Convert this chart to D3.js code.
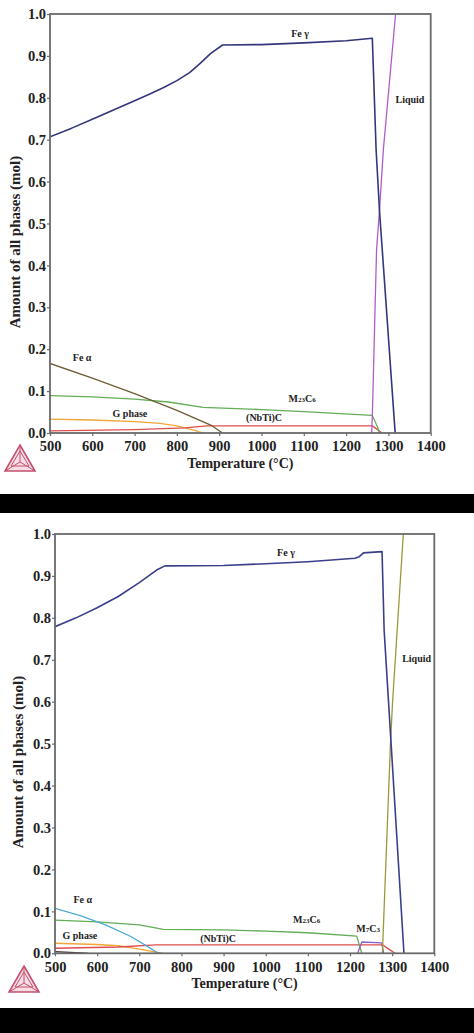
<!DOCTYPE html>
<html>
<head>
    <title>Amount of all phases vs temperature</title>
    <script src="https://d3js.org/d3.v7.min.js"></script>
    <style>
        body { margin: 0; background: #fff; }
        svg { display: block; }
        .tick text { font-family: "Liberation Serif", "Times New Roman", serif; font-weight: bold; font-size: 14.5px; fill: #222; }
        .axis-title { font-family: "Liberation Serif", "Times New Roman", serif; font-weight: bold; font-size: 14px; fill: #222; }
        .y-title { font-size: 15px; }
        .phase-label { font-family: "Liberation Serif", "Times New Roman", serif; font-weight: bold; font-size: 10px; fill: #222; }
    </style>
</head>
<body>
    <div id="chart"></div>

    <script>
        const width = 474, height = 1033;

        // tick labels
        const xTicks = [500, 600, 700, 800, 900, 1000, 1100, 1200, 1300, 1400];
        const yTicks = [0, 0.1, 0.2, 0.3, 0.4, 0.5, 0.6, 0.7, 0.8, 0.9, 1.0];

        // panel (a) : [temperature, amount]
        const feGammaA = [[500, 0.707], [550, 0.727], [600, 0.749], [650, 0.771], [700, 0.793], [736, 0.809], [770, 0.825], [800, 0.841], [830, 0.860], [855, 0.882], [880, 0.906], [908, 0.926], [1000, 0.927], [1100, 0.931], [1200, 0.936], [1262, 0.942], [1271, 0.675], [1279, 0.53], [1316, 0]];
        const liquidA = [[1260.5, 0], [1262, 0.04], [1272, 0.437], [1279, 0.532], [1288, 0.675], [1317, 1.0]];
        const feAlphaA = [[500, 0.166], [600, 0.131], [700, 0.094], [800, 0.054], [880, 0.019], [908, 0]];
        const m23c6A = [[500, 0.089], [600, 0.086], [700, 0.081], [780, 0.074], [862, 0.061], [1000, 0.056], [1100, 0.051], [1262, 0.042], [1274, 0.015], [1279, 0]];
        const nbtiCA = [[500, 0.005], [700, 0.008], [820, 0.012], [870, 0.017], [1262, 0.017], [1285, 0]];
        const gPhaseA = [[500, 0.033], [600, 0.031], [700, 0.027], [760, 0.023], [800, 0.017], [840, 0.007], [862, 0]];

        // panel (b)
        const feGammaB = [[500, 0.779], [550, 0.800], [600, 0.824], [650, 0.851], [700, 0.884], [741, 0.914], [761, 0.924], [900, 0.925], [1000, 0.929], [1100, 0.934], [1212, 0.942], [1222, 0.946], [1232, 0.955], [1276, 0.958], [1281, 0.77], [1292, 0.59], [1328, 0]];
        const liquidB = [[1277, 0], [1278, 0.03], [1296, 0.50], [1301, 0.60], [1326.5, 1.0]];
        const feAlphaB = [[500, 0.107], [560, 0.090], [620, 0.068], [680, 0.040], [720, 0.016], [745, 0]];
        const m23c6B = [[500, 0.079], [600, 0.075], [700, 0.068], [757, 0.057], [900, 0.056], [1000, 0.053], [1100, 0.049], [1216, 0.041], [1228, 0]];
        const m7c3B = [[1218, 0], [1228, 0.027], [1275, 0.025], [1280, 0]];
        const nbtiCB = [[500, 0.012], [650, 0.015], [740, 0.020], [1278, 0.020], [1292, 0.010], [1307, 0]];
        const gPhaseB = [[500, 0.024], [600, 0.021], [650, 0.018], [700, 0.010], [757, 0]];
        const darkB = [[500, 0.004], [560, 0.001], [580, 0]];

        // labels : [text parts (odd parts are subscripts), temperature, amount]
        const labelsA = [
            [["Fe γ"], 1091, 0.955],
            [["Liquid"], 1351, 0.797],
            [["Fe α"], 576, 0.181],
            [["M", "23", "C", "6"], 1096, 0.084],
            [["G phase"], 689, 0.048],
            [["(NbTi)C"], 1006, 0.039]
        ];
        const labelsB = [
            [["Fe γ"], 1048, 0.958],
            [["Liquid"], 1358, 0.704],
            [["Fe α"], 566, 0.129],
            [["G phase"], 559, 0.044],
            [["M", "23", "C", "6"], 1097, 0.081],
            [["(NbTi)C"], 887, 0.037],
            [["M", "7", "C", "3"], 1243, 0.060]
        ];

        var svg = d3.select("#chart").append("svg")
            .attr("width", width)
            .attr("height", height);

        svg.append("rect").attr("width", width).attr("height", height).attr("fill", "#fff");

        function drawLogo(x, y) {
            var g = svg.append("g").attr("transform", "translate(" + x + "," + y + ")");
            g.append("path")
                .attr("d", "M15,0 L30,26 L0,26 Z")
                .attr("fill", "#f6dde5")
                .attr("stroke", "#c4526f")
                .attr("stroke-width", 1.6);
            g.append("path")
                .attr("d", "M15,0 L15,17 M0,26 L15,17 L30,26 M15,6 L24,21 L6,21 Z")
                .attr("fill", "none")
                .attr("stroke", "#c4526f")
                .attr("stroke-width", 1);
        }

        function drawPanel(p) {
            var x = d3.scaleLinear().domain([500, 1400]).range([p.left, p.right]);
            var y = d3.scaleLinear().domain([0, 1]).range([p.bottom, p.top]);

            var clipId = "clip-" + p.name;
            svg.append("clipPath").attr("id", clipId)
                .append("rect")
                .attr("x", p.left).attr("y", p.top)
                .attr("width", p.right - p.left).attr("height", p.bottom - p.top);

            var line = d3.line().x(d => x(d[0])).y(d => y(d[1]));

            var lines = svg.append("g").attr("clip-path", "url(#" + clipId + ")");
            p.series.forEach(s => {
                lines.append("path")
                    .datum(s.data)
                    .attr("fill", "none")
                    .attr("stroke", s.color)
                    .attr("stroke-width", s.width || 1.3)
                    .attr("stroke-linejoin", "round")
                    .attr("d", line);
            });

            // frame
            svg.append("rect")
                .attr("x", p.left).attr("y", p.top)
                .attr("width", p.right - p.left).attr("height", p.bottom - p.top)
                .attr("fill", "none")
                .attr("stroke", "#6a6a6a")
                .attr("stroke-width", 1.8);

            var xAxis = svg.append("g")
                .attr("transform", "translate(0," + p.bottom + ")")
                .call(d3.axisBottom(x).tickValues(xTicks).tickSize(3).tickPadding(5).tickFormat(d3.format("d")));
            var yAxis = svg.append("g")
                .attr("transform", "translate(" + p.left + ",0)")
                .call(d3.axisLeft(y).tickValues(yTicks).tickSize(3).tickPadding(1).tickFormat(d3.format(".1f")));
            [xAxis, yAxis].forEach(a => {
                a.select(".domain").remove();
                a.selectAll(".tick line").attr("stroke", "#6a6a6a").attr("stroke-width", 1.2);
            });

            svg.append("text")
                .attr("class", "axis-title")
                .attr("x", (p.left + p.right) / 2)
                .attr("y", p.bottom + 35)
                .attr("text-anchor", "middle")
                .text("Temperature (°C)");

            svg.append("text")
                .attr("class", "axis-title y-title")
                .attr("transform", "translate(" + p.yTitleX + "," + p.yTitleY + ") rotate(-90)")
                .attr("text-anchor", "middle")
                .text("Amount of all phases (mol)");

            p.labels.forEach(l => {
                var t = svg.append("text")
                    .attr("class", "phase-label")
                    .attr("x", x(l[1]))
                    .attr("y", y(l[2]))
                    .attr("text-anchor", "middle")
                    .attr("dominant-baseline", "central");
                l[0].forEach((part, i) => {
                    var ts = t.append("tspan").text(part);
                    if (i % 2 === 1) ts.attr("font-size", "7px").attr("dy", "2");
                    else if (i > 0) ts.attr("dy", "-2");
                });
            });

            drawLogo(p.logoX, p.logoY);
        }

        drawPanel({
            name: "a", left: 50, right: 430.7, top: 14, bottom: 433,
            yTitleX: 20, yTitleY: 242, logoX: 5, logoY: 445,
            labels: labelsA,
            series: [
                { data: gPhaseA, color: "#f0a638" },
                { data: nbtiCA, color: "#de4c4c" },
                { data: m23c6A, color: "#62ad55" },
                { data: feAlphaA, color: "#6e5d35" },
                { data: liquidA, color: "#b25bc4" },
                { data: feGammaA, color: "#33367a", width: 1.6 }
            ]
        });

        drawPanel({
            name: "b", left: 55, right: 434.3, top: 534, bottom: 953.3,
            yTitleX: 23, yTitleY: 762, logoX: 9, logoY: 966,
            labels: labelsB,
            series: [
                { data: darkB, color: "#4a2a2a" },
                { data: gPhaseB, color: "#f0a638" },
                { data: nbtiCB, color: "#de4c4c" },
                { data: m23c6B, color: "#62ad55" },
                { data: m7c3B, color: "#8d5ec9" },
                { data: feAlphaB, color: "#4fa9d6" },
                { data: liquidB, color: "#9b9838" },
                { data: feGammaB, color: "#3a3f8c", width: 1.6 }
            ]
        });

        // black bands with panel captions
        [[494, 19, "(a)"], [1008, 25, "(b)"]].forEach(b => {
            svg.append("rect")
                .attr("x", 0).attr("y", b[0])
                .attr("width", width).attr("height", b[1])
                .attr("fill", "#000");
            svg.append("text")
                .attr("class", "axis-title")
                .attr("x", 227).attr("y", b[0] + b[1] / 2)
                .attr("text-anchor", "middle")
                .attr("dominant-baseline", "central")
                .style("fill", "#000")
                .text(b[2]);
        });
    </script>
</body>
</html>
